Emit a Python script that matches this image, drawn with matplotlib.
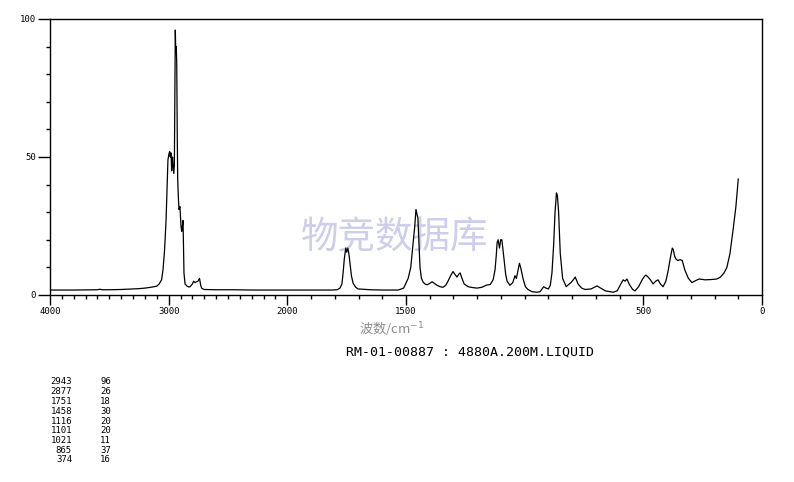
import numpy as np
import matplotlib
matplotlib.use("Agg")
import matplotlib.pyplot as plt

# spectrum points (wavenumber, intensity)
wavenumber = [4000, 3800, 3600, 3580, 3560, 3500, 3400, 3300, 3250, 3200, 3150, 3100,
              3080, 3060, 3048, 3035, 3022, 3012, 3006, 2998, 2992, 2986, 2980, 2975,
              2972, 2967, 2963, 2957, 2952, 2947, 2944, 2940, 2936, 2932, 2928, 2924,
              2918, 2913, 2905, 2896, 2890, 2884, 2879, 2875, 2871, 2862, 2852, 2845,
              2830, 2820, 2800, 2790, 2778, 2765, 2753, 2740, 2730, 2722, 2712, 2700,
              2600, 2450, 2300, 2200, 2100, 2000, 1900, 1812, 1790, 1778, 1770, 1765,
              1760, 1754, 1750, 1745, 1740, 1736, 1730, 1723, 1712, 1702, 1650, 1600,
              1533, 1510, 1491, 1480, 1470, 1463, 1458, 1453, 1450, 1446, 1441, 1435,
              1428, 1420, 1411, 1400, 1390, 1380, 1369, 1356, 1344, 1333, 1323, 1312,
              1302, 1294, 1285, 1278, 1272, 1264, 1255, 1238, 1220, 1201, 1180, 1160,
              1145, 1133, 1125, 1120, 1116, 1112, 1106, 1101, 1096, 1092, 1087, 1080,
              1074, 1062, 1050, 1041, 1035, 1028, 1022, 1017, 1012, 1007, 997, 986,
              969, 950, 935, 920, 910, 900, 892, 885, 878, 872, 866, 862, 857, 850,
              840, 825, 815, 805, 795, 787, 775, 760, 745, 720, 695, 680, 660, 640,
              627, 610, 595, 585, 577, 569, 560, 545, 535, 520, 505, 495, 489, 480,
              470, 459, 448, 438, 428, 417, 405, 395, 385, 378, 374, 368, 362, 355,
              345, 336, 325, 310, 295, 280, 265, 240, 215, 190, 175, 160, 148, 135,
              122, 110, 100]
intensity = [1.8, 1.8, 1.9, 2.1, 1.9, 1.9, 2.0, 2.2, 2.3, 2.5, 2.8, 3.2,
             4.0, 5.5, 9.0, 16.0, 27.0, 40.0, 49.0, 51.0, 52.0, 50.0, 51.5, 45.0,
             48.0, 50.0, 47.0, 44.0, 47.0, 80.0, 96.0, 88.0, 90.0, 84.0, 60.0, 42.0,
             35.0, 31.0, 32.0, 25.0, 23.0, 25.0, 27.0, 18.0, 8.0, 4.0, 3.5, 3.2,
             2.9, 3.0, 4.0, 5.0, 4.5, 4.8, 5.0, 6.0, 3.5, 2.5, 2.2, 2.0,
             1.9, 1.9, 1.8, 1.8, 1.8, 1.8, 1.8, 1.8, 1.9, 2.5, 4.0, 8.0,
             13.0, 17.0, 15.5, 17.0, 14.5, 11.5, 7.0, 4.3, 2.8, 2.2, 1.9, 1.8,
             1.8, 2.5, 6.0, 10.0, 19.0, 25.0, 31.0, 29.0, 28.0, 20.0, 10.0, 6.0,
             4.7, 4.0, 3.7, 4.2, 4.8, 4.2, 3.5, 3.0, 2.8, 3.5, 5.0, 7.0,
             8.5, 7.5, 6.5, 7.5, 8.0, 6.0, 4.0, 3.0, 2.7, 2.5, 2.8, 3.6,
             3.8, 5.5, 9.0, 14.0, 19.0, 20.0, 17.0, 20.0, 20.0, 17.0, 13.0, 7.5,
             5.0, 3.5, 4.5, 7.0, 6.0, 9.0, 11.5, 10.0, 8.0, 6.0, 3.0, 2.0,
             1.2, 1.0, 1.2, 3.0, 2.5, 2.2, 3.5, 8.0, 18.0, 30.0, 37.0, 36.0, 30.0, 15.0,
             6.0, 3.0, 3.8, 4.5, 5.5, 6.5, 4.0, 2.5, 2.0, 2.2, 3.3, 2.5, 1.5, 1.2,
             1.0, 1.5, 4.0, 5.5, 5.0, 5.8, 4.0, 2.0, 1.5, 3.0, 5.5, 6.8, 7.2, 6.5,
             5.5, 4.0, 5.0, 5.5, 4.0, 3.0, 5.0, 9.0, 14.0, 17.0, 16.5, 14.0, 13.0, 12.5,
             12.8, 12.5, 9.0, 6.0, 4.5, 5.2, 5.8, 5.5, 5.6, 5.8, 6.5, 8.0, 10.0, 15.0,
             23.5, 32.0, 42.0]

# peak table
peak_pos = ["2943", "2877", "1751", "1458", "1116", "1101", "1021", "865", "374"]
peak_int = ["96", "26", "18", "30", "20", "20", "11", "37", "16"]

major_ticks = [4000, 3000, 2000, 1500, 500, 0]
major_labels = ["4000", "3000", "2000", "1500", "500", "0"]


# above 2000 cm-1 the axis is squeezed by two
def fwd(x):
    x = np.asarray(x, dtype=float)
    return np.where(x > 2000, 2000 + (x - 2000) / 2.0, x)


def inv(y):
    y = np.asarray(y, dtype=float)
    return np.where(y > 2000, 2000 + (y - 2000) * 2.0, y)


fig = plt.figure(figsize=(7.94, 4.82), dpi=100)
ax = fig.add_axes([50 / 794, 1 - 295 / 482, 712 / 794, 276 / 482])
ax.patch.set_alpha(0)

ax.set_xscale("function", functions=(fwd, inv))
ax.plot(wavenumber, intensity, color="black", lw=0.9, zorder=3)
ax.set_xlim(4000, 0)
ax.set_ylim(0, 100)

ax.set_xticks(major_ticks)
ax.set_xticklabels(major_labels)
ax.set_xticks(np.arange(0, 4001, 100), minor=True)
ax.set_yticks([0, 50, 100])
ax.set_yticks(np.arange(0, 101, 10), minor=True)

mono = "DejaVu Sans Mono"
ax.tick_params(axis="x", which="major", length=7, width=1, pad=2,
               labelsize=6.5, labelfontfamily=mono)
ax.tick_params(axis="x", which="minor", length=3, width=1)
ax.tick_params(axis="y", which="major", length=9, width=1, pad=1,
               labelsize=6.5, labelfontfamily=mono)
ax.tick_params(axis="y", which="minor", length=3, width=1)
for s in ax.spines.values():
    s.set_linewidth(1)

# watermark, behind the spectrum
fig.text(395 / 794, 1 - 238 / 482, "物竞数据库", fontsize=27,
         family=["Noto Sans CJK SC", "DejaVu Sans"], color="#cdcdec",
         ha="center", va="center", zorder=-1)

fig.text(392 / 794, 1 - 330 / 482, "波数/cm$^{-1}$", fontsize=9.5,
         family=["Noto Sans CJK SC", "DejaVu Sans"], color="#8c8c8c",
         ha="center", va="center")
fig.text(470 / 794, 1 - 352 / 482, "RM-01-00887 : 4880A.200M.LIQUID",
         fontsize=9.5, family=mono, ha="center", va="center")

for i, (p, v) in enumerate(zip(peak_pos, peak_int)):
    y = 1 - (382 + i * 9.75) / 482
    fig.text(72 / 794, y, p, fontsize=6.5, family=mono, ha="right", va="center")
    fig.text(111 / 794, y, v, fontsize=6.5, family=mono, ha="right", va="center")

fig.savefig("out.png", dpi=100)
